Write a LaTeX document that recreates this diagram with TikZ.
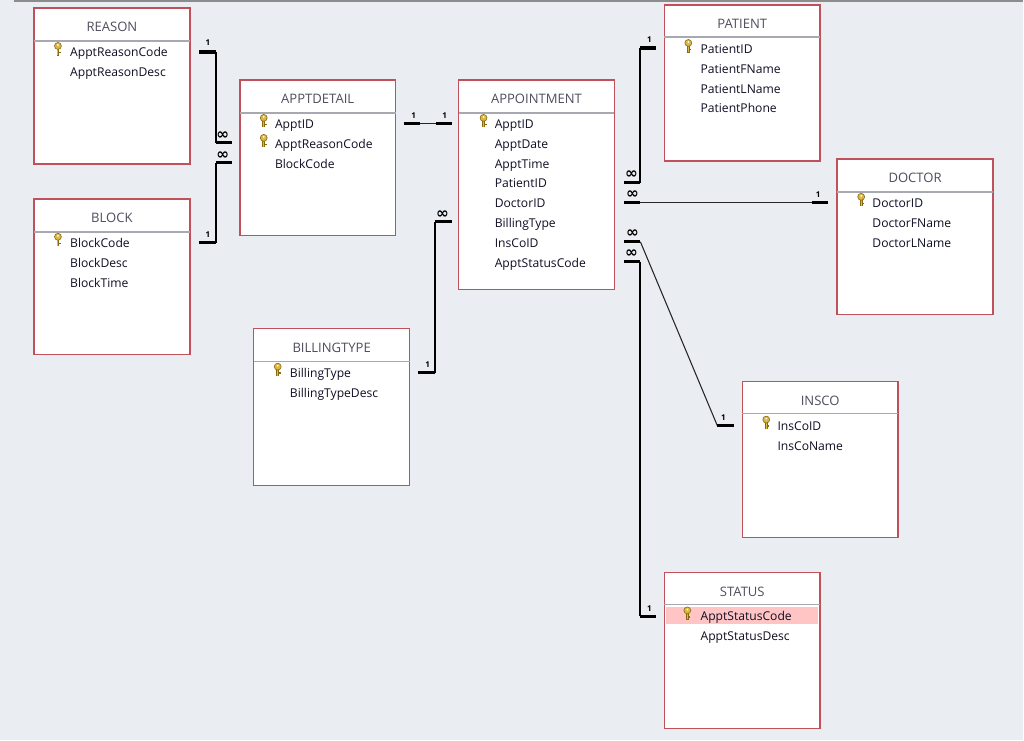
\documentclass[tikz,border=0pt]{standalone}
\usepackage{fontspec}
\setmainfont{Open Sans}
\newfontfamily\symfont{DejaVu Sans}
\usetikzlibrary{fit}
\definecolor{bg}{HTML}{EAEDF1}
\definecolor{boxred}{HTML}{C0505A}
\definecolor{sepgray}{HTML}{A8A8B0}
\definecolor{titlec}{HTML}{4E4E5E}
\definecolor{fieldc}{HTML}{0E0E24}
\definecolor{keygold}{HTML}{D8B848}
\definecolor{keydark}{HTML}{8A6A10}
\definecolor{hilite}{HTML}{FFC4C4}
\definecolor{topline}{HTML}{8C8C8C}

\newcommand\mktable[7]{%
  \node[tbl, fit={(#2,#3)(#4,#5)}] (#1) {};
  \draw[sepl] (#2,#6) -- (#4,#6);
  \node[ttl, anchor=base] (#1-title) at ({(#2+#4)/2},{#3+24}) {#7};
}
\newcommand\mkfield[4]{%
  \node[fld] (#1) at (#2,{#3+1.5}) {#4};
}

\begin{document}
\begin{tikzpicture}[x=0.75pt,y=-0.75pt,
  tbl/.style={draw=boxred, fill=white, line width=1.1pt, inner sep=0pt},
  sepl/.style={draw=sepgray, line width=1.1pt},
  ttl/.style={font=\fontsize{9.8}{11}\selectfont, text=titlec, inner sep=0pt},
  fld/.style={font=\fontsize{9.1}{10}\selectfont, text=fieldc, anchor=base west, inner sep=0pt},
  endbar/.style={line width=2.4pt, black},
  link/.style={line width=1.4pt, black},
  thinlink/.style={line width=0.8pt, black!85},
  card/.style={font=\bfseries\fontsize{6}{6}\selectfont, inner sep=0pt},
  many/.style={inner sep=0pt, font=\symfont\bfseries\fontsize{11.5}{11}\selectfont},
  keyp/.pic={
    \fill[keydark] (-1.4,-0.5) rectangle (1.4,6.6);
    \fill[keygold] (-0.5,0) rectangle (0.5,6);
    \fill[keydark] (1.4,2.8) rectangle (3.1,4.2);
    \fill[keygold, draw=keydark, line width=0.45pt] (0,-3) circle (2.6pt);
    \fill[white] (0,-3.9) circle (0.75pt);
  }
]
% background
\fill[bg] (0,0) rectangle (1024,741);
\draw[topline, line width=1.5pt] (14,1) -- (1024,1);

% tables
\mktable{reason}{34}{8}{190}{164}{41}{REASON}
\mktable{block}{34}{199}{190}{355}{232}{BLOCK}
\mktable{apptdetail}{240}{80}{396}{236}{113}{APPTDETAIL}
\mktable{appointment}{459}{80}{615}{290}{113}{APPOINTMENT}
\mktable{patient}{665}{5}{821}{161}{37}{PATIENT}
\mktable{doctor}{838}{159}{994}{315}{192}{DOCTOR}
\mktable{billing}{254}{329}{410}{486}{362}{BILLINGTYPE}
\mktable{insco}{743}{382}{899}{538}{414}{INSCO}
\mktable{status}{665}{573}{821}{729}{605}{STATUS}

% highlight in STATUS
\fill[hilite] (667,608) rectangle (819,625);

% fields
\mkfield{reason-1}{70}{55}{ApptReasonCode}
\mkfield{reason-2}{70}{75}{ApptReasonDesc}
\mkfield{block-1}{70}{246}{BlockCode}
\mkfield{block-2}{70}{266}{BlockDesc}
\mkfield{block-3}{70}{286}{BlockTime}
\mkfield{apptdetail-1}{275}{127}{ApptID}
\mkfield{apptdetail-2}{275}{147}{ApptReasonCode}
\mkfield{apptdetail-3}{275}{167}{BlockCode}
\mkfield{appointment-1}{495}{127}{ApptID}
\mkfield{appointment-2}{495}{147}{ApptDate}
\mkfield{appointment-3}{495}{167}{ApptTime}
\mkfield{appointment-4}{495}{186}{PatientID}
\mkfield{appointment-5}{495}{206}{DoctorID}
\mkfield{appointment-6}{495}{226}{BillingType}
\mkfield{appointment-7}{495}{246}{InsCoID}
\mkfield{appointment-8}{495}{266}{ApptStatusCode}
\mkfield{patient-1}{701}{52}{PatientID}
\mkfield{patient-2}{701}{72}{PatientFName}
\mkfield{patient-3}{701}{92}{PatientLName}
\mkfield{patient-4}{701}{111}{PatientPhone}
\mkfield{doctor-1}{873}{206}{DoctorID}
\mkfield{doctor-2}{873}{226}{DoctorFName}
\mkfield{doctor-3}{873}{246}{DoctorLName}
\mkfield{billing-1}{290}{376}{BillingType}
\mkfield{billing-2}{290}{396}{BillingTypeDesc}
\mkfield{insco-1}{778}{429}{InsCoID}
\mkfield{insco-2}{778}{449}{InsCoName}
\mkfield{status-1}{701}{620}{ApptStatusCode}
\mkfield{status-2}{701}{640}{ApptStatusDesc}

% key icons
\pic at (58,49) {keyp};
\pic at (58,240) {keyp};
\pic at (264,121) {keyp};
\pic at (264,141) {keyp};
\pic at (484,121) {keyp};
\pic at (689,46) {keyp};
\pic at (862,200) {keyp};
\pic at (278,370) {keyp};
\pic at (767,423) {keyp};
\pic at (688,614) {keyp};

% connector coordinates
\coordinate (r1) at (199,52);  \coordinate (r2) at (216,52);
\coordinate (r3) at (216,143); \coordinate (r4) at (232,143);
\coordinate (b1) at (199,243); \coordinate (b2) at (216,243);
\coordinate (b3) at (216,163); \coordinate (b4) at (232,163);
\coordinate (d1) at (404,124); \coordinate (d2) at (420,124);
\coordinate (d3) at (436,124); \coordinate (d4) at (452,124);
\coordinate (t1) at (418,373); \coordinate (t2) at (435,373);
\coordinate (t3) at (435,222); \coordinate (t4) at (452,222);
\coordinate (p1) at (625,183); \coordinate (p2) at (641,183);
\coordinate (p3) at (641,48);  \coordinate (p4) at (657,48);
\coordinate (o1) at (625,203); \coordinate (o2) at (641,203);
\coordinate (o3) at (813,203); \coordinate (o4) at (829,203);
\coordinate (i1) at (625,242); \coordinate (i2) at (641,242);
\coordinate (i3) at (718,426); \coordinate (i4) at (735,426);
\coordinate (s1) at (625,262); \coordinate (s2) at (641,262);
\coordinate (s3) at (641,617); \coordinate (s4) at (657,617);

% REASON - APPTDETAIL
\draw[link] (r2) -- (r3);
\draw[endbar] (r1) -- (r2);
\draw[endbar] (r3) -- (r4);
\node[card] (r-one) at (208,43) {1};
\node[many] (r-many) at (223,136) {∞};
% BLOCK - APPTDETAIL
\draw[link] (b2) -- (b3);
\draw[endbar] (b1) -- (b2);
\draw[endbar] (b3) -- (b4);
\node[card] (b-one) at (208,235) {1};
\node[many] (b-many) at (223,156) {∞};
% APPTDETAIL - APPOINTMENT
\draw[thinlink] (d2) -- (d3);
\draw[endbar] (d1) -- (d2);
\draw[endbar] (d3) -- (d4);
\node[card] (d-one) at (414,116) {1};
\node[card] (d-one2) at (445,116) {1};
% BILLINGTYPE - APPOINTMENT
\draw[link] (t2) -- (t3);
\draw[endbar] (t1) -- (t2);
\draw[endbar] (t3) -- (t4);
\node[card] (t-one) at (428,365) {1};
\node[many] (t-many) at (443,215) {∞};
% APPOINTMENT - PATIENT
\draw[link] (p2) -- (p3);
\draw[endbar] (p1) -- (p2);
\draw[endbar] (p3) -- (p4);
\node[card] (p-one) at (650,40) {1};
\node[many] (p-many) at (632,175) {∞};
% APPOINTMENT - DOCTOR
\draw[thinlink, line width=1pt] (o2) -- (o3);
\draw[endbar] (o1) -- (o2);
\draw[endbar] (o3) -- (o4);
\node[card] (o-one) at (819,195) {1};
\node[many] (o-many) at (633,195) {∞};
% APPOINTMENT - INSCO
\draw[thinlink] (i2) -- (i3);
\draw[endbar] (i1) -- (i2);
\draw[endbar] (i3) -- (i4);
\node[card] (i-one) at (724,418) {1};
\node[many] (i-many) at (633,234) {∞};
% APPOINTMENT - STATUS
\draw[link] (s2) -- (s3);
\draw[endbar] (s1) -- (s2);
\draw[endbar] (s3) -- (s4);
\node[card] (s-one) at (650,609) {1};
\node[many] (s-many) at (632,254) {∞};
\end{tikzpicture}
\end{document}
